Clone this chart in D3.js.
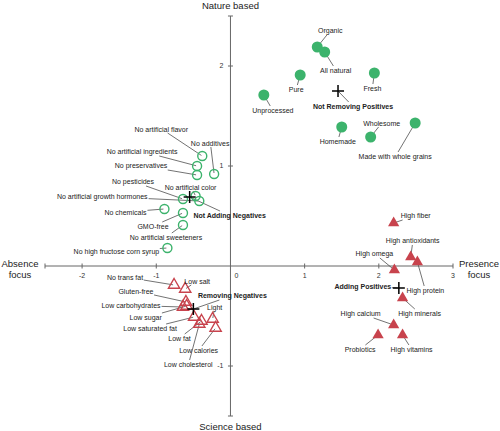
<!DOCTYPE html>
<html>
<head>
<meta charset="utf-8">
<script src="https://cdn.jsdelivr.net/npm/d3@7"></script>
<style>
  body { margin: 0; background: #fff; }
  svg { display: block; font-family: "Liberation Sans", Arial, sans-serif; }
</style>
</head>
<body>
<svg id="chart" width="500" height="431"></svg>
<script>
/* SECTION: data */

// Not Removing Positives (filled circles)
var npNames = ["Organic", "All natural", "Pure", "Fresh", "Unprocessed", "Homemade", "Wholesome", "Made with whole grains"];
var npX = [1.17, 1.27, 0.94, 1.94, 0.45, 1.50, 1.89, 2.49];
var npY = [2.19, 2.14, 1.91, 1.93, 1.71, 1.39, 1.29, 1.43];

// Not Adding Negatives (open circles)
var naNames = ["No artificial flavor", "No additives", "No artificial ingredients", "No preservatives", "No pesticides",
  "No artificial color", "No artificial growth hormones", "No chemicals", "GMO-free", "No artificial sweeteners", "No high fructose corn syrup"];
var naX = [-0.38, -0.22, -0.45, -0.45, -0.64, -0.47, -0.42, -0.89, -0.64, -0.64, -0.85];
var naY = [1.10, 0.92, 1.00, 0.91, 0.67, 0.70, 0.65, 0.57, 0.53, 0.41, 0.18];

// Removing Negatives (open triangles)
var rnNames = ["No trans fat", "Low salt", "Gluten-free", "Low carbohydrates", "Low sugar", "Low saturated fat",
  "Low fat", "Low cholesterol", "Light", "Low calories"];
var rnX = [-0.76, -0.61, -0.60, -0.64, -0.59, -0.49, -0.39, -0.42, -0.24, -0.20];
var rnY = [-0.19, -0.23, -0.36, -0.41, -0.40, -0.51, -0.55, -0.58, -0.53, -0.62];

// Adding Positives (filled triangles)
var apNames = ["High fiber", "High antioxidants", "High protein", "High omega", "High minerals", "High calcium", "Probiotics", "High vitamins"];
var apX = [2.20, 2.43, 2.52, 2.21, 2.32, 2.20, 1.99, 2.32];
var apY = [0.43, 0.09, 0.04, -0.04, -0.32, -0.59, -0.69, -0.69];

// group centroids
var cenNames = ["Not Removing Positives", "Not Adding Negatives", "Removing Negatives", "Adding Positives"];
var cenX = [1.45, -0.55, -0.50, 2.27];
var cenY = [1.75, 0.69, -0.43, -0.22];

var xTicks = [-2, -1, 1, 2, 3];
var yTicks = [-1, 1, 2];

// label nudges in px (label centre minus point)
var nudge = {
  "Organic": [13, -17], "All natural": [11, 18], "Pure": [-4, 14], "Fresh": [-2, 15], "Unprocessed": [9, 15],
  "Homemade": [-4, 14], "Wholesome": [11, -14], "Made with whole grains": [-20, 33],
  "No artificial flavor": [-41, -27], "No additives": [-4, -31], "No artificial ingredients": [-55, -15],
  "No preservatives": [-56, -10], "No pesticides": [-50, -18], "No artificial color": [-5, -9],
  "No artificial growth hormones": [-97, -5], "No chemicals": [-39, 3], "GMO-free": [-30, 13],
  "No artificial sweeteners": [-17, 12], "No high fructose corn syrup": [-51, 3],
  "No trans fat": [-49, -8], "Low salt": [12, -8], "Gluten-free": [-50, -11], "Low carbohydrates": [-52, -2],
  "Low sugar": [-41, 11], "Low saturated fat": [-44, 11], "Low fat": [-22, 17], "Low cholesterol": [-11, 40],
  "Light": [2, -12], "Low calories": [-17, 22],
  "High fiber": [22, -8], "High antioxidants": [2, -17], "High protein": [8, 28], "High omega": [-20, -17],
  "High minerals": [17, 15], "High calcium": [-33, -12], "Probiotics": [-18, 14], "High vitamins": [9, 14],
  "Not Removing Positives": [15, 15], "Not Adding Negatives": [40, 18], "Removing Negatives": [39, -14],
  "Adding Positives": [-36, -2]
};

/* SECTION: setup */

var green = "#3cb36c", red = "#c8434d", ink = "#222", lead = "#444";

var svg = d3.select("#chart");
var x = d3.scaleLinear().domain([-2.5, 3]).range([45, 453]);
var y = d3.scaleLinear().domain([-1.5, 2.5]).range([416, 16]);

function zip(names, xs, ys) {
  return names.map(function(n, i) { return {name: n, x: xs[i], y: ys[i]}; });
}

var np = zip(npNames, npX, npY);
var na = zip(naNames, naX, naY);
var rn = zip(rnNames, rnX, rnY);
var ap = zip(apNames, apX, apY);
var cen = zip(cenNames, cenX, cenY);

/* SECTION: axes */

var ax = svg.append("g").attr("stroke", "#666").attr("stroke-width", 1);
ax.append("line").attr("x1", x(-2.5)).attr("x2", x(3)).attr("y1", y(0)).attr("y2", y(0));
ax.append("line").attr("x1", x(0)).attr("x2", x(0)).attr("y1", y(2.5)).attr("y2", y(-1.5));
ax.selectAll(".xt").data(xTicks.concat([-2.5])).enter().append("line")
    .attr("x1", function(d) { return x(d); }).attr("x2", function(d) { return x(d); })
    .attr("y1", y(0) - 2.5).attr("y2", y(0) + 2.5);
ax.selectAll(".yt").data(yTicks.concat([2.5, -1.5])).enter().append("line")
    .attr("y1", function(d) { return y(d); }).attr("y2", function(d) { return y(d); })
    .attr("x1", x(0) - 2.5).attr("x2", x(0) + 2.5);

var tk = svg.append("g").attr("font-size", 7).attr("fill", "#333");
tk.selectAll(".xl").data(xTicks).enter().append("text")
    .attr("x", function(d) { return x(d); }).attr("y", y(0) + 12)
    .attr("text-anchor", "middle").text(function(d) { return d; });
tk.append("text").attr("x", x(0) + 6).attr("y", y(0) + 12).attr("text-anchor", "middle").text("0");
tk.selectAll(".yl").data(yTicks).enter().append("text")
    .attr("x", x(0) - 7).attr("y", function(d) { return y(d); })
    .attr("dy", "0.35em").attr("text-anchor", "end").text(function(d) { return d; });

var tt = svg.append("g").attr("font-size", 9.5).attr("fill", ink).attr("text-anchor", "middle");
tt.append("text").attr("x", x(0)).attr("y", 8.5).text("Nature based");
tt.append("text").attr("x", x(0)).attr("y", 430).text("Science based");
tt.append("text").attr("x", 20).attr("y", 266.5).text("Absence");
tt.append("text").attr("x", 20).attr("y", 277.5).text("focus");
tt.append("text").attr("x", 479).attr("y", 266.5).text("Presence");
tt.append("text").attr("x", 479).attr("y", 277.5).text("focus");

/* SECTION: marks */

var leaders = svg.append("g").attr("stroke", lead).attr("stroke-width", 0.75);
var marks = svg.append("g");
var labels = svg.append("g").attr("font-size", 7).attr("fill", ink);

var tri = d3.symbol().type(d3.symbolTriangle).size(55);

marks.selectAll(".np").data(np).enter().append("circle")
    .attr("cx", function(d) { return x(d.x); }).attr("cy", function(d) { return y(d.y); })
    .attr("r", 5.5).attr("fill", green);
marks.selectAll(".na").data(na).enter().append("circle")
    .attr("cx", function(d) { return x(d.x); }).attr("cy", function(d) { return y(d.y); })
    .attr("r", 4.5).attr("fill", "none").attr("stroke", green).attr("stroke-width", 1.4);
marks.selectAll(".rn").data(rn).enter().append("path")
    .attr("d", tri).attr("transform", function(d) { return "translate(" + x(d.x) + "," + y(d.y) + ")"; })
    .attr("fill", "none").attr("stroke", red).attr("stroke-width", 1.4);
marks.selectAll(".ap").data(ap).enter().append("path")
    .attr("d", tri).attr("transform", function(d) { return "translate(" + x(d.x) + "," + y(d.y) + ")"; })
    .attr("fill", red);
marks.selectAll(".cen").data(cen).enter().append("path")
    .attr("d", "M-6,0H6M0,-6V6")
    .attr("transform", function(d) { return "translate(" + x(d.x) + "," + y(d.y) + ")"; })
    .attr("stroke", "#000").attr("stroke-width", 1.5);

/* SECTION: labels + leader lines */

function clipToBox(px, py, b, pad) {
  var cx = b.x + b.width / 2, cy = b.y + b.height / 2;
  var hw = b.width / 2 + pad, hh = b.height / 2 + pad;
  var dx = px - cx, dy = py - cy;
  if (Math.abs(dx) <= hw && Math.abs(dy) <= hh) return null;
  var t = Math.min(dx ? hw / Math.abs(dx) : Infinity, dy ? hh / Math.abs(dy) : Infinity);
  return [cx + dx * t, cy + dy * t];
}

function addLabels(data, bold, pointPad) {
  data.forEach(function(d) {
    var px = x(d.x), py = y(d.y);
    var n = nudge[d.name] || [0, 0];
    var t = labels.append("text")
        .attr("x", px + n[0]).attr("y", py + n[1])
        .attr("text-anchor", "middle").attr("dominant-baseline", "central")
        .attr("font-weight", bold ? "bold" : null)
        .text(d.name);
    var e = clipToBox(px, py, t.node().getBBox(), 0.5);
    if (!e) return;
    var len = Math.hypot(e[0] - px, e[1] - py);
    if (len - pointPad < 0.8) return;
    var k = (len - pointPad) / len;
    leaders.append("line")
        .attr("x1", e[0]).attr("y1", e[1])
        .attr("x2", e[0] + (px - e[0]) * k).attr("y2", e[1] + (py - e[1]) * k);
  });
}

addLabels(np, false, 1);
addLabels(na, false, 1);
addLabels(rn, false, 1);
addLabels(ap, false, 1);
addLabels(cen, true, 1);
</script>
</body>
</html>
